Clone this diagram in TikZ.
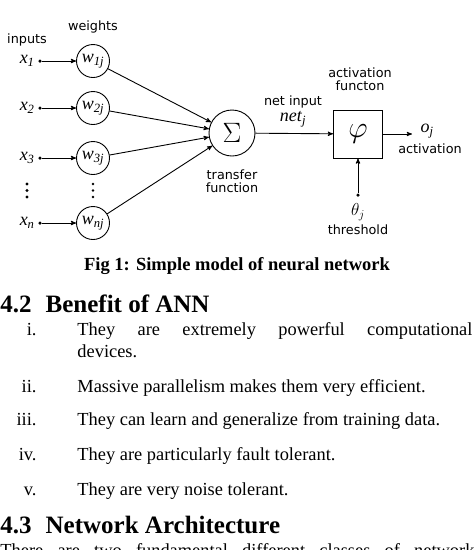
\documentclass[tikz,border=0pt]{standalone}
\usepackage{graphicx}
\usepackage{fontspec}
\setmainfont{Liberation Serif}
\newfontfamily\sanslabel{DejaVu Sans}
\usetikzlibrary{arrows,positioning}

\newcommand{\fsize}[2]{\fontsize{#1}{#2}\selectfont}

\begin{document}
\begin{tikzpicture}[x=1pt,y=-1pt,>=stealth',line width=0.9pt,auto]
  \tikzstyle{weight}=[circle,draw,minimum size=33pt,inner sep=0pt,font=\fsize{18}{20}]
  \tikzstyle{var}=[inner sep=0pt,font=\fsize{18}{20}]
  \tikzstyle{lbl}=[inner sep=0pt,align=center,font=\sanslabel\fsize{12.8}{13.5}]
  \tikzstyle{dot}=[circle,fill,inner sep=0pt,minimum size=3.5pt]
  \tikzstyle{body}=[inner sep=0pt,anchor=base west,font=\fsize{18.4}{21}]
  \tikzstyle{num}=[inner sep=0pt,anchor=base east,font=\fsize{18.4}{21}]
  \tikzstyle{head}=[inner sep=0pt,anchor=base west,font=\bfseries\fsize{25}{28}]

  \path[use as bounding box,clip] (0,0) rectangle (474,550);

  % inputs and weights
  \foreach \i/\y in {1/61,2/108,3/158,n/223} {
    \node[var,anchor=east] (x_\i) at (35,\y) {\textit{x}\textsubscript{\textit{\i}}};
    \node[dot] (d_\i) at (40,\y) {};
    \node[weight] (w_\i) at (93,\y) {\textit{w}\textsubscript{\textit{\i j}}};
    \draw[->] (d_\i) -- (w_\i);
  }
  % vertical dots
  \foreach \yy in {184,190.5,197} {
    \fill (27,\yy) circle (1.6pt);
    \fill (93,\yy) circle (1.3pt);
  }
  \node[lbl] (inputs) at (27,40) {inputs};
  \node[lbl] (weights) at (93,27) {weights};

  % transfer and activation
  \node[circle,draw,minimum size=46pt,inner sep=0pt,font=\fsize{20}{22}] (sum) at (232,133) {\scalebox{1.35}{$\Sigma$}};
  \node[lbl] (transfer) at (232,181) {transfer\\function};
  \node[draw,minimum width=49pt,minimum height=48pt,inner sep=0pt,font=\fsize{20}{22}] (phi) at (358,134) {\scalebox{1.45}{$\varphi$}};
  \node[lbl] (actfn) at (360,79) {activation\\functon};
  \node[lbl] (netin) at (293,102) {net input};
  \node[var] (netj) at (293,119) {\textit{net}\textsubscript{\textit{j}}};
  \foreach \i in {1,2,3,n}
    \draw[->] (w_\i) -- (sum);
  \draw[->] (sum) -- (phi);

  \coordinate (out) at (412,134);
  \draw[->] (phi) -- (out);
  \node[var] (o_j) at (427,131) {\textit{o}\textsubscript{\textit{j}}};
  \node[lbl] (actout) at (430,149) {activation};

  \node[dot] (th) at (358,195) {};
  \draw[->] (th) -- (phi);
  \node[var] (theta) at (358,212) {$\theta_j$};
  \node[lbl] (thr) at (358,230) {threshold};

  % caption and text
  \node[inner sep=0pt,anchor=base,font=\bfseries\fsize{18.5}{21}] (cap) at (237,270) {Fig 1: Simple model of neural network};

  \node[head] (h_42) at (0,312) {4.2\hspace{14pt}Benefit of ANN};
  \node[num] (n_1) at (37,335) {i.};
  \node[body] (t_1) at (77,335) {\makebox[395pt][s]{They are extremely powerful computational}};
  \node[body] (t_1b) at (77,357) {devices.};
  \node[num] (n_2) at (37,392) {ii.};
  \node[body] (t_2) at (77,392) {Massive parallelism makes them very efficient.};
  \node[num] (n_3) at (37,425) {iii.};
  \node[body] (t_3) at (77,425) {They can learn and generalize from training data.};
  \node[num] (n_4) at (37,460) {iv.};
  \node[body] (t_4) at (77,460) {They are particularly fault tolerant.};
  \node[num] (n_5) at (37,495) {v.};
  \node[body] (t_5) at (77,495) {They are very noise tolerant.};

  \node[head] (h_43) at (0,533) {4.3\hspace{14pt}Network Architecture};
  \node[body] (para) at (0,556) {\makebox[474pt][s]{There are two fundamental different classes of network}};
\end{tikzpicture}
\end{document}
